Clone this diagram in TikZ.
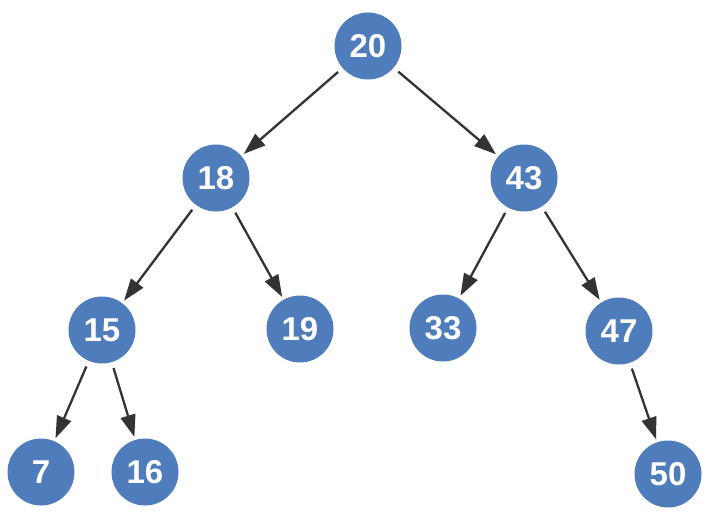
\documentclass[tikz,border=0pt]{standalone}
\usepackage{fontspec}
\setmainfont{Liberation Sans}
\usetikzlibrary{arrows.meta}
\definecolor{nodeblue}{RGB}{79,124,186}
\definecolor{edgegray}{RGB}{51,51,51}
\tikzset{
  tnode/.style={circle,fill=nodeblue,minimum size=67pt,inner sep=0pt,
    text=white,font=\fontsize{33}{33}\selectfont\bfseries},
  tedge/.style={draw=edgegray,line width=2.3pt,
    -{Triangle[length=22pt,width=15pt]},shorten <=6pt,shorten >=3pt}
}
\begin{document}
\begin{tikzpicture}[x=1pt,y=-1pt]
\useasboundingbox (0,0) rectangle (712,520);
\node[tnode] (n20) at (368,46) {20};
\node[tnode] (n18) at (216,178) {18};
\node[tnode] (n43) at (524,178) {43};
\node[tnode] (n15) at (102,330) {15};
\node[tnode] (n19) at (300,329) {19};
\node[tnode] (n33) at (443,328) {33};
\node[tnode] (n47) at (619,331) {47};
\node[tnode] (n7) at (41,472) {7};
\node[tnode] (n16) at (145,472) {16};
\node[tnode] (n50) at (668,474) {50};
\draw[tedge] (n20) -- (n18);
\draw[tedge] (n20) -- (n43);
\draw[tedge] (n18) -- (n15);
\draw[tedge] (n18) -- (n19);
\draw[tedge] (n43) -- (n33);
\draw[tedge] (n43) -- (n47);
\draw[tedge] (n15) -- (n7);
\draw[tedge] (n15) -- (n16);
\draw[tedge] (n47) -- (n50);
\end{tikzpicture}
\end{document}
